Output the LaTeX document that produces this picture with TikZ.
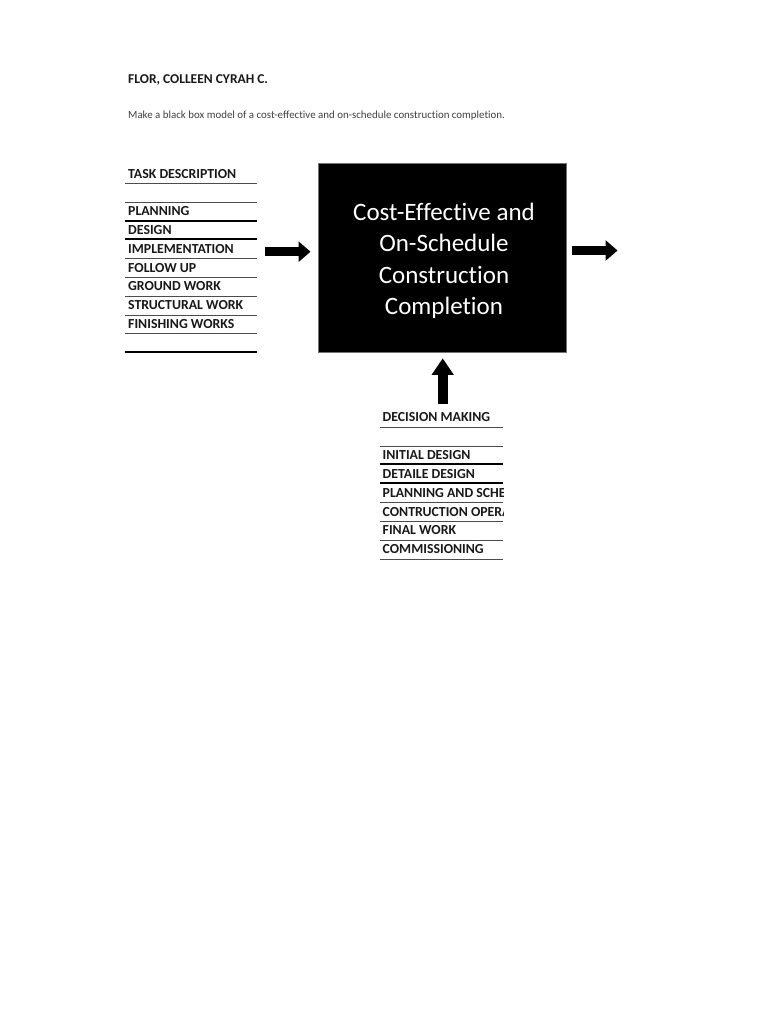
\documentclass[tikz,border=0pt]{standalone}
\usepackage{fontspec}
\setmainfont{Carlito}[Ligatures=NoCommon]
\usetikzlibrary{arrows.meta}
\begin{document}
\begin{tikzpicture}[x=1pt,y=-1pt,
  lbl/.style={anchor=base west,inner sep=0pt,font=\fontsize{13.8}{15}\selectfont\bfseries,text=black!90},
  rowline/.style={draw=black!70,line width=0.9pt},
  rowthick/.style={draw=black,line width=1.9pt},
  blockarrow/.style={draw=black,line width=9.5pt,-{Triangle[length=12pt,width=20pt]}}]
\useasboundingbox[fill=white] (0,0) rectangle (768,1024);
% header texts
\node[anchor=base west,inner sep=0pt,font=\fontsize{13.5}{16}\selectfont\bfseries,text=black!90] (name) at (128,84) {FLOR, COLLEEN CYRAH C.};
\node[anchor=base west,inner sep=0pt,font=\fontsize{10.9}{13}\selectfont,text=black!75] (task) at (128,119) {Make a black box model of a cost-effective and on-schedule construction completion.};
% black box
\node[draw=black!55,fill=black,line width=0.8pt,minimum width=248pt,minimum height=189pt,inner sep=0pt] (box) at (442.2,257.8) {};
\node[align=center,inner sep=0pt,text=white,font=\fontsize{25}{31.4}\selectfont] (boxtext) at (444,261) {Cost-Effective and\\On-Schedule\\Construction\\Completion};
% arrows
\coordinate (inA) at (265,251.7);
\coordinate (inB) at (310.5,251.7);
\draw[blockarrow] (inA) -- (inB);
\coordinate (outA) at (572.3,250.5);
\coordinate (outB) at (617.5,250.5);
\draw[blockarrow] (outA) -- (outB);
\coordinate (upA) at (442.7,403.5);
\coordinate (upB) at (442.7,358.3);
\draw[draw=black,line width=10pt,-{Triangle[length=16.5pt,width=21pt]}] (upA) -- (upB);
% task description list
\node[lbl] (tdh) at (128,178.3) {TASK DESCRIPTION};
\draw[rowline] (125,183.3) -- (256.7,183.3);
\draw[rowline] (125,202.3) -- (256.7,202.3);
\node[lbl] (t1) at (128,215.5) {PLANNING};
\draw[rowthick] (125,220.7) -- (256.7,220.7);
\node[lbl] (t2) at (128,234.1) {DESIGN};
\draw[rowthick] (125,239.3) -- (256.7,239.3);
\node[lbl] (t3) at (128,253.5) {IMPLEMENTATION};
\draw[rowline] (125,258.7) -- (256.7,258.7);
\node[lbl] (t4) at (128,272.1) {FOLLOW UP};
\draw[rowline] (125,277.3) -- (256.7,277.3);
\node[lbl] (t5) at (128,290.8) {GROUND WORK};
\draw[rowline] (125,296) -- (256.7,296);
\node[lbl] (t6) at (128,309.8) {STRUCTURAL WORK};
\draw[rowline] (125,315) -- (256.7,315);
\node[lbl] (t7) at (128,328.1) {FINISHING WORKS};
\draw[rowline] (125,333.3) -- (256.7,333.3);
\draw[rowthick] (125,352) -- (256.7,352);
% decision making list
\node[lbl] (dmh) at (382.5,421.5) {DECISION MAKING};
\draw[rowline] (380,427.3) -- (503.3,427.3);
\draw[rowline] (380,446.7) -- (503.3,446.7);
\begin{scope}
\clip (378,440) rectangle (503.3,565);
\node[lbl] (d1) at (382.5,459.8) {INITIAL DESIGN};
\node[lbl] (d2) at (382.5,478.6) {DETAILE DESIGN};
\node[lbl] (d3) at (382.5,497.3) {PLANNING AND SCHE};
\node[lbl] (d4) at (382.5,516) {CONTRUCTION OPERA};
\node[lbl] (d5) at (382.5,534.8) {FINAL WORK};
\node[lbl] (d6) at (382.5,553.6) {COMMISSIONING};
\end{scope}
\draw[rowthick] (380,464.3) -- (503.3,464.3);
\draw[rowthick] (380,483.3) -- (503.3,483.3);
\draw[rowline] (380,502.3) -- (503.3,502.3);
\draw[rowline] (380,521) -- (503.3,521);
\draw[rowline] (380,540) -- (503.3,540);
\draw[rowline] (380,559) -- (503.3,559);
\end{tikzpicture}
\end{document}
